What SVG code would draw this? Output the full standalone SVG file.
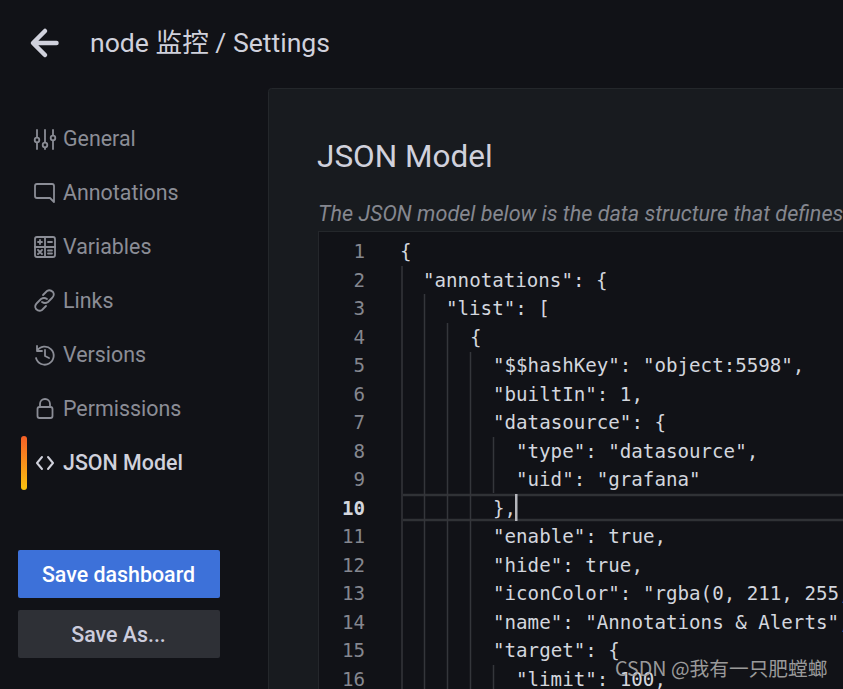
<svg xmlns="http://www.w3.org/2000/svg" width="843" height="689" viewBox="0 0 843 689">
<style>
.nav{font:21.4px Roboto,"Liberation Sans",sans-serif;fill:#8b8d96}
.ic{fill:none;stroke:#8b8d96;stroke-width:1.800;stroke-linecap:round;stroke-linejoin:round}
.ln{font:19.17px "DejaVu Sans Mono",monospace;fill:#85878f;text-anchor:end}
.cd{font:19.17px "DejaVu Sans Mono",monospace;fill:#d3d6de;white-space:pre}
.g{stroke:#34363b;stroke-width:1.5}
</style>
<defs><linearGradient id="bar" x1="0" y1="0" x2="0" y2="1"><stop offset="0" stop-color="#f55f27"/><stop offset="1" stop-color="#fbc30f"/></linearGradient></defs>
<rect width="843" height="689" fill="#111217"/>
<g id="header">
<path d="M56.500 43H34M45 31L33 43L45 55" fill="none" stroke="#d0d1dc" stroke-width="4.500" stroke-linecap="round" stroke-linejoin="round"/>
<text x="90" y="52" font-family="Roboto,'Noto Sans CJK SC',sans-serif" font-size="26.600" fill="#d0d1dc">node 监控 / Settings</text>
</g>
<g id="panel">
<rect x="268.500" y="88.500" width="600" height="640" rx="3" fill="#181b1f" stroke="#24272b"/>
<text x="317" y="167" font-family="Roboto,sans-serif" font-size="31.500" fill="#d0d1dc">JSON Model</text>
<text x="318" y="221" font-family="Roboto,sans-serif" font-size="21.600" font-style="italic" fill="#85878f">The JSON model below is the data structure that defines</text>
</g>
<g id="nav-general"><path class="ic" d="M37 130V137M37 143V149M45 130V142M45 148V149M53 130V135M53 141V149"/><circle class="ic" cx="37" cy="140" r="2.300"/><circle class="ic" cx="45" cy="145" r="2.300"/><circle class="ic" cx="53" cy="138" r="2.300"/><text class="nav" x="63" y="146">General</text></g>
<g id="nav-annotations"><path class="ic" d="M37 184H52Q54 184 54 186V202L50 198H37Q35 198 35 196V186Q35 184 37 184Z"/><text class="nav" x="63" y="200">Annotations</text></g>
<g id="nav-variables"><rect class="ic" x="35" y="237" width="20" height="20" rx="2"/><path class="ic" d="M45 237V257M35 247H55M38 242H42M40 240V244M48 242H52M38 250L42 254M42 250L38 254M48 250.500H52M48 253.500H52" stroke-width="1.500"/><text class="nav" x="63" y="254">Variables</text></g>
<g id="nav-links"><path class="ic" d="M43 295L47 291Q50 289 53 292Q55 295 52 298L48 302Q45 304 42 302M46 306L42 310Q39 312 36 309Q34 306 37 303L41 299Q44 297 47 299"/><text class="nav" x="63" y="308">Links</text></g>
<g id="nav-versions"><path class="ic" d="M37 346V351H42M37 351A9 9 0 1 1 36 358M45 350V356L49 358"/><text class="nav" x="63" y="362">Versions</text></g>
<g id="nav-permissions"><rect class="ic" x="37.500" y="407" width="15" height="11" rx="2"/><path class="ic" d="M40 407V404A5 5 0 0 1 50 404V407"/><text class="nav" x="63" y="416">Permissions</text></g>
<g id="nav-json"><rect x="21" y="436" width="6" height="54" rx="3" fill="url(#bar)"/><path d="M42 457L37 463L42 469M48 457L53 463L48 469" fill="none" stroke="#d0d1dc" stroke-width="2" stroke-linecap="round" stroke-linejoin="round"/><text x="63" y="470" font-family="Roboto,sans-serif" font-size="21.400" font-weight="500" fill="#d0d1dc">JSON Model</text></g>
<g id="btn-save"><rect x="18" y="550" width="202" height="48" rx="2" fill="#3d71d9"/><text x="118.500" y="582" text-anchor="middle" font-family="Roboto,sans-serif" font-size="21.400" font-weight="500" fill="#fff">Save dashboard</text></g>
<g id="btn-saveas"><rect x="18" y="610" width="202" height="48" rx="2" fill="#2e3036"/><text x="118.500" y="642" text-anchor="middle" font-family="Roboto,sans-serif" font-size="21.400" font-weight="500" fill="#ccccdc">Save As...</text></g>
<g id="editor">
<rect x="318.500" y="231.500" width="560" height="480" fill="#111217" stroke="#24272b"/>
<path fill="none" stroke="#303236" stroke-width="2.500" d="M403 495H843M403 520H843"/>
<path class="g" d="M402 266V689M424.500 294V689M447.500 323V689M470.500 352V689M493.500 437V493M493.500 665V689"/>
<rect x="515" y="494" width="2.500" height="27" fill="#b4b5bb"/>
<text class="ln" x="365" y="258">1</text><text class="ln" x="365" y="287">2</text><text class="ln" x="365" y="315">3</text><text class="ln" x="365" y="344">4</text><text class="ln" x="365" y="372">5</text><text class="ln" x="365" y="401">6</text><text class="ln" x="365" y="429">7</text><text class="ln" x="365" y="458">8</text><text class="ln" x="365" y="486">9</text><text class="ln" x="365" y="515" style="fill:#d3d6de;font-weight:bold">10</text><text class="ln" x="365" y="543">11</text><text class="ln" x="365" y="572">12</text><text class="ln" x="365" y="600">13</text><text class="ln" x="365" y="629">14</text><text class="ln" x="365" y="657">15</text><text class="ln" x="365" y="686">16</text>
<text class="cd" x="400" y="258">{</text>
<text class="cd" x="423" y="287">"annotations": {</text>
<text class="cd" x="446" y="315">"list": [</text>
<text class="cd" x="470" y="344">{</text>
<text class="cd" x="493" y="372">"$$hashKey": "object:5598",</text>
<text class="cd" x="493" y="401">"builtIn": 1,</text>
<text class="cd" x="493" y="429">"datasource": {</text>
<text class="cd" x="516" y="458">"type": "datasource",</text>
<text class="cd" x="516" y="486">"uid": "grafana"</text>
<text class="cd" x="493" y="515">},</text>
<text class="cd" x="493" y="543">"enable": true,</text>
<text class="cd" x="493" y="572">"hide": true,</text>
<text class="cd" x="493" y="600">"iconColor": "rgba(0, 211, 255,</text>
<text class="cd" x="493" y="629">"name": "Annotations &amp; Alerts",</text>
<text class="cd" x="493" y="657">"target": {</text>
<text class="cd" x="516" y="686">"limit": 100,</text>
</g>
<text x="615" y="676" font-family="'Noto Sans CJK SC',sans-serif" font-size="19.700" fill="#a9a9a9" opacity=".9">CSDN @我有一只肥螳螂</text>
</svg>
